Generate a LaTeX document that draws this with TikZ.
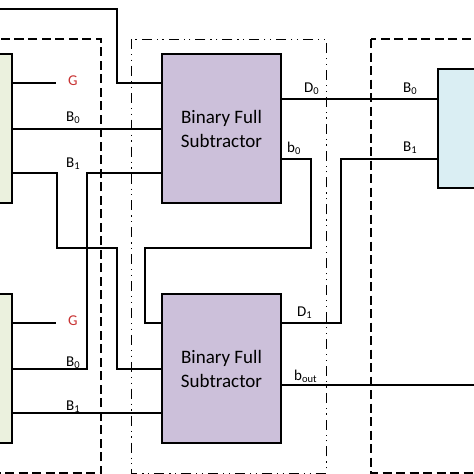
\documentclass[tikz,border=0pt]{standalone}
\usepackage{fontspec}
\setmainfont{Carlito}
\definecolor{gfill}{RGB}{235,241,222}
\definecolor{pfill}{RGB}{204,192,218}
\definecolor{bfill}{RGB}{218,238,243}
\definecolor{gred}{RGB}{200,50,50}
\begin{document}
\begin{tikzpicture}[x=1pt,y=-1pt,
  wire/.style={line width=1.1pt, black},
  frameA/.style={line width=1.1pt, dash pattern=on 9pt off 4.5pt},
  frameB/.style={line width=1pt, dash pattern=on 10pt off 5pt on 1.2pt off 4.5pt on 1.2pt off 5pt},
  boxbase/.style={draw, line width=1.1pt, inner sep=0pt, outer sep=0pt},
  greenbox/.style={boxbase, fill=gfill, minimum width=24pt, minimum height=149pt},
  bfsbox/.style={boxbase, fill=pfill, minimum width=119pt, minimum height=149pt, align=center, font=\fontsize{19}{24}\selectfont},
  bluebox/.style={boxbase, fill=bfill, minimum width=80pt, minimum height=119pt},
  lab/.style={font=\fontsize{15}{16}\selectfont, inner sep=0pt, anchor=base west},
  glab/.style={lab, text=gred}
]
\useasboundingbox (0,0) rectangle (474,474);
\clip (0,0) rectangle (474,474);

% frames
\draw[frameA] (-20,39) rectangle (101,473);
\draw[frameB] (131,39) rectangle (326,473);
\draw[frameA] (371,39) rectangle (520,473);

% boxes
\node[greenbox] (L1) at (0,128.5) {};
\node[greenbox] (L2) at (0,368.5) {};
\node[bfsbox] (S1) at (221.5,128.5) {Binary Full\\Subtractor};
\node[bfsbox] (S2) at (221.5,368.5) {Binary Full\\Subtractor};
\node[bluebox] (R) at (478,128.5) {};

% free ends
\coordinate (topin) at (-5,9);
\coordinate (G1end) at (56,83);
\coordinate (G2end) at (56,323);
\coordinate (boutend) at (490,385);

% wires
\draw[wire] (topin) -| (117,83) -- (S1.west |- 0,83);
\draw[wire] (L1.east |- G1end) -- (G1end);
\draw[wire] (L1.east |- 0,129) -- (S1.west |- 0,129);
\draw[wire] (L1.east |- 0,173) -| (57,248) -| (117,369) -- (S2.west |- 0,369);
\draw[wire] (L2.east |- 0,369) -| (87,173) -- (S1.west |- 0,173);
\draw[wire] (L2.east |- G2end) -- (G2end);
\draw[wire] (L2.east |- 0,413) -- (S2.west |- 0,413);
\draw[wire] (S1.east |- 0,99) -- (R.west |- 0,99);
\draw[wire] (S1.east |- 0,159) -| (311,248) -| (145,323) -- (S2.west |- 0,323);
\draw[wire] (S2.east |- 0,323) -| (341,159) -- (R.west |- 0,159);
\draw[wire] (S2.east |- 0,385) -- (boutend);

% labels
\node[glab] (g1) at (68,85) {G};
\node[lab] (lb0a) at (66,121) {B\textsubscript{0}};
\node[lab] (lb1a) at (66,167) {B\textsubscript{1}};
\node[glab] (g2) at (68,325) {G};
\node[lab] (lb0b) at (66,366) {B\textsubscript{0}};
\node[lab] (lb1b) at (66,410) {B\textsubscript{1}};
\node[lab] (d0) at (304,92) {D\textsubscript{0}};
\node[lab] (rb0) at (403,92) {B\textsubscript{0}};
\node[lab] (sb0) at (287,152) {b\textsubscript{0}};
\node[lab] (rb1) at (403,151) {B\textsubscript{1}};
\node[lab] (d1) at (297,316) {D\textsubscript{1}};
\node[lab] (bo) at (294,380) {b\textsubscript{out}};
\end{tikzpicture}
\end{document}
